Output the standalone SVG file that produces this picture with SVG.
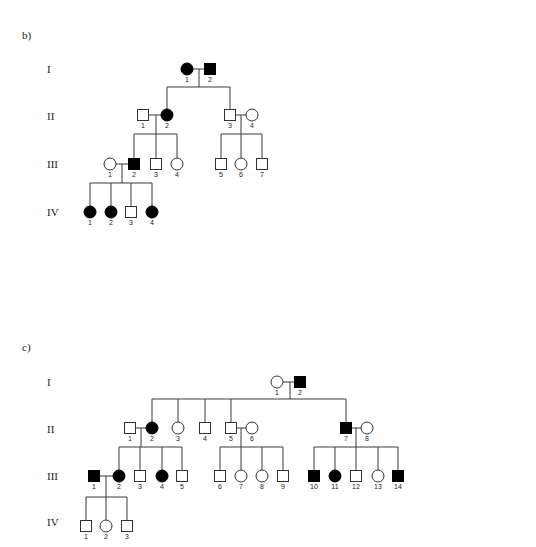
<svg xmlns="http://www.w3.org/2000/svg" width="536" height="547" viewBox="0 0 536 547">
<style>
.l{stroke:#3a3a3a;stroke-width:1;fill:none}
.u{fill:#fff;stroke:#333;stroke-width:1}
.a{fill:#000;stroke:#000;stroke-width:1}
.n{font-family:"Liberation Sans",Arial,sans-serif;font-size:7px;fill:#222;text-anchor:middle}
.r{font-family:"Liberation Serif","Times New Roman",serif;font-size:11px;fill:#222}
</style>
<rect width="536" height="547" fill="#fff"/>
<g id="labels">
<text class="r" x="22" y="39">b)</text>
<text class="r" x="47" y="73">I</text>
<text class="r" x="47" y="120">II</text>
<text class="r" x="47" y="168">III</text>
<text class="r" x="47" y="216">IV</text>
<text class="r" x="22" y="351">c)</text>
<text class="r" x="47" y="386">I</text>
<text class="r" x="47" y="433">II</text>
<text class="r" x="47" y="480">III</text>
<text class="r" x="47" y="526">IV</text>
</g>
<g id="connectors">
<!-- panel b -->
<path class="l" d="M193 69H204.5M199 69V87M167 87H230M167 87V109M230 87V109.5"/>
<path class="l" d="M148.5 115H161M156 115V134M134 134H177M134 134V158.5M156 134V158.5M177 134V158"/>
<path class="l" d="M235.5 115H246M241 115V134M221 134H262M221 134V158.5M241 134V158M262 134V158.5"/>
<path class="l" d="M116 164H128.5M122 164V183M90 183H152M90 183V206M111 183V206M131 183V206.5M152 183V206"/>
<!-- panel c -->
<path class="l" d="M283 382H294.5M290 382V399M152 399H346M152 399V422M178 399V422M205 399V422.5M231 399V422.5M346 399V422.5"/>
<path class="l" d="M135.5 428H146M141 428V447M119 447H182M119 447V470M140 447V470.5M162 447V470M182 447V470.5"/>
<path class="l" d="M236.5 428H246M241 428V447M220 447H283M220 447V470.5M241 447V470M262 447V470M283 447V470.5"/>
<path class="l" d="M351.5 428H361M356 428V447M314 447H398M314 447V470.5M335 447V470M356 447V470.5M378 447V470M398 447V470.5"/>
<path class="l" d="M99.5 476H113M106 476V497M86 497H127M86 497V520.5M106 497V520M127 497V520.5"/>
</g>
<!-- panel b nodes -->
<g id="b-I-1"><circle class="a" cx="187" cy="69" r="6"/><text class="n" x="187" y="82">1</text></g>
<g id="b-I-2"><rect class="a" x="204.5" y="63.5" width="11" height="11"/><text class="n" x="210" y="82">2</text></g>
<g id="b-II-1"><rect class="u" x="137.5" y="109.5" width="11" height="11"/><text class="n" x="143" y="128">1</text></g>
<g id="b-II-2"><circle class="a" cx="167" cy="115" r="6"/><text class="n" x="167" y="128">2</text></g>
<g id="b-II-3"><rect class="u" x="224.5" y="109.5" width="11" height="11"/><text class="n" x="230" y="128">3</text></g>
<g id="b-II-4"><circle class="u" cx="252" cy="115" r="6"/><text class="n" x="252" y="128">4</text></g>
<g id="b-III-1"><circle class="u" cx="110" cy="164" r="6"/><text class="n" x="110" y="177">1</text></g>
<g id="b-III-2"><rect class="a" x="128.5" y="158.5" width="11" height="11"/><text class="n" x="134" y="177">2</text></g>
<g id="b-III-3"><rect class="u" x="150.5" y="158.5" width="11" height="11"/><text class="n" x="156" y="177">3</text></g>
<g id="b-III-4"><circle class="u" cx="177" cy="164" r="6"/><text class="n" x="177" y="177">4</text></g>
<g id="b-III-5"><rect class="u" x="215.5" y="158.5" width="11" height="11"/><text class="n" x="221" y="177">5</text></g>
<g id="b-III-6"><circle class="u" cx="241" cy="164" r="6"/><text class="n" x="241" y="177">6</text></g>
<g id="b-III-7"><rect class="u" x="256.5" y="158.5" width="11" height="11"/><text class="n" x="262" y="177">7</text></g>
<g id="b-IV-1"><circle class="a" cx="90" cy="212" r="6"/><text class="n" x="90" y="225">1</text></g>
<g id="b-IV-2"><circle class="a" cx="111" cy="212" r="6"/><text class="n" x="111" y="225">2</text></g>
<g id="b-IV-3"><rect class="u" x="125.5" y="206.5" width="11" height="11"/><text class="n" x="131" y="225">3</text></g>
<g id="b-IV-4"><circle class="a" cx="152" cy="212" r="6"/><text class="n" x="152" y="225">4</text></g>
<!-- panel c nodes -->
<g id="c-I-1"><circle class="u" cx="277" cy="382" r="6"/><text class="n" x="277" y="395">1</text></g>
<g id="c-I-2"><rect class="a" x="294.5" y="376.5" width="11" height="11"/><text class="n" x="300" y="395">2</text></g>
<g id="c-II-1"><rect class="u" x="124.5" y="422.5" width="11" height="11"/><text class="n" x="130" y="441">1</text></g>
<g id="c-II-2"><circle class="a" cx="152" cy="428" r="6"/><text class="n" x="152" y="441">2</text></g>
<g id="c-II-3"><circle class="u" cx="178" cy="428" r="6"/><text class="n" x="178" y="441">3</text></g>
<g id="c-II-4"><rect class="u" x="199.5" y="422.5" width="11" height="11"/><text class="n" x="205" y="441">4</text></g>
<g id="c-II-5"><rect class="u" x="225.5" y="422.5" width="11" height="11"/><text class="n" x="231" y="441">5</text></g>
<g id="c-II-6"><circle class="u" cx="252" cy="428" r="6"/><text class="n" x="252" y="441">6</text></g>
<g id="c-II-7"><rect class="a" x="340.5" y="422.5" width="11" height="11"/><text class="n" x="346" y="441">7</text></g>
<g id="c-II-8"><circle class="u" cx="367" cy="428" r="6"/><text class="n" x="367" y="441">8</text></g>
<g id="c-III-1"><rect class="a" x="88.5" y="470.5" width="11" height="11"/><text class="n" x="94" y="489">1</text></g>
<g id="c-III-2"><circle class="a" cx="119" cy="476" r="6"/><text class="n" x="119" y="489">2</text></g>
<g id="c-III-3"><rect class="u" x="134.5" y="470.5" width="11" height="11"/><text class="n" x="140" y="489">3</text></g>
<g id="c-III-4"><circle class="a" cx="162" cy="476" r="6"/><text class="n" x="162" y="489">4</text></g>
<g id="c-III-5"><rect class="u" x="176.5" y="470.5" width="11" height="11"/><text class="n" x="182" y="489">5</text></g>
<g id="c-III-6"><rect class="u" x="214.5" y="470.5" width="11" height="11"/><text class="n" x="220" y="489">6</text></g>
<g id="c-III-7"><circle class="u" cx="241" cy="476" r="6"/><text class="n" x="241" y="489">7</text></g>
<g id="c-III-8"><circle class="u" cx="262" cy="476" r="6"/><text class="n" x="262" y="489">8</text></g>
<g id="c-III-9"><rect class="u" x="277.5" y="470.5" width="11" height="11"/><text class="n" x="283" y="489">9</text></g>
<g id="c-III-10"><rect class="a" x="308.5" y="470.5" width="11" height="11"/><text class="n" x="314" y="489">10</text></g>
<g id="c-III-11"><circle class="a" cx="335" cy="476" r="6"/><text class="n" x="335" y="489">11</text></g>
<g id="c-III-12"><rect class="u" x="350.5" y="470.5" width="11" height="11"/><text class="n" x="356" y="489">12</text></g>
<g id="c-III-13"><circle class="u" cx="378" cy="476" r="6"/><text class="n" x="378" y="489">13</text></g>
<g id="c-III-14"><rect class="a" x="392.5" y="470.5" width="11" height="11"/><text class="n" x="398" y="489">14</text></g>
<g id="c-IV-1"><rect class="u" x="80.5" y="520.5" width="11" height="11"/><text class="n" x="86" y="539">1</text></g>
<g id="c-IV-2"><circle class="u" cx="106" cy="526" r="6"/><text class="n" x="106" y="539">2</text></g>
<g id="c-IV-3"><rect class="u" x="121.5" y="520.5" width="11" height="11"/><text class="n" x="127" y="539">3</text></g>
</svg>
